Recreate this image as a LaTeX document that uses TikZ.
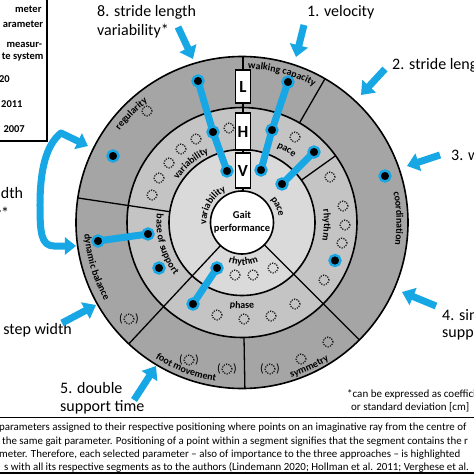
\documentclass[tikz,border=0pt]{standalone}
\usepackage{fontspec}
\setmainfont{Carlito}
\usetikzlibrary{arrows.meta,decorations.text}
\definecolor{cblue}{RGB}{22,167,228}
\definecolor{ringA}{RGB}{165,165,165}
\definecolor{ringB}{RGB}{196,196,196}
\definecolor{ringC}{RGB}{218,218,218}
\newcommand\lblfont{\bfseries\fontsize{10}{12}\selectfont}
\newcommand\lblcw[3]{\path[decorate,decoration={text along path,text align=center,text={|\lblfont|#3}}] ({#1+60}:#2) arc[start angle={#1+60}, end angle={#1-60}, radius=#2];}
\newcommand\lblccw[3]{\path[decorate,decoration={text along path,text align=center,text={|\lblfont|#3}}] ({#1-60}:#2) arc[start angle={#1-60}, end angle={#1+60}, radius=#2];}
\begin{document}
\begin{tikzpicture}[x=1pt,y=1pt,
  ringline/.style={draw=black,line width=1.6pt},
  divline/.style={draw=black,line width=1.3pt},
  rayline/.style={draw=cblue,line width=7pt},
  gdot/.style={circle,fill=black,draw=cblue,line width=2.4pt,minimum size=11pt,inner sep=0pt},
  edot/.style={circle,draw=black,line width=1.1pt,dash pattern=on 1.2pt off 1.3pt,minimum size=10pt,inner sep=0pt},
  paren/.style={inner sep=0pt,font=\fontsize{12}{12}\selectfont},
  lhv/.style={draw=black,fill=white,line width=1.2pt,minimum width=15pt,inner sep=0pt,font=\bfseries\fontsize{17}{17}\selectfont},
  bigarrow/.style={draw=cblue,line width=7pt,-{Triangle[length=12pt,width=18pt]}},
  dblarrow/.style={draw=cblue,line width=7pt,line join=round,{Triangle[length=11pt,width=17pt]}-{Triangle[length=11pt,width=17pt]}},
  itemlbl/.style={anchor=base west,inner sep=0pt,font=\fontsize{16}{19}\selectfont},
  legtxt/.style={anchor=base east,inner sep=0pt,font=\bfseries\fontsize{10.5}{12}\selectfont},
  captxt/.style={anchor=base west,inner sep=0pt,font=\fontsize{10.9}{12}\selectfont},
  fntxt/.style={anchor=base west,inner sep=0pt,font=\fontsize{11}{12}\selectfont},
]
\useasboundingbox (-242,-251.5) rectangle (232,222.5);
\fill[white] (-242,-251.5) rectangle (232,222.5);
\clip (-242,-251.5) rectangle (232,222.5);

% rings
\fill[ringA] (0,0) circle (166);
\fill[ringB] (0,0) circle (115);
\fill[ringC] (0,0) circle (73);
\fill[white] (0,0) circle (31.5);
% dividers
\draw[divline] (60:115) -- (60:166);
\draw[divline] (-45:31.5) -- (-45:166);
\draw[divline] (-89:115) -- (-89:166);
\draw[divline] (-133:31.5) -- (-133:166);
\draw[divline] (171.5:73) -- (171.5:166);
\draw[divline] (35.5:73) -- (35.5:115);
\draw[divline] (1,31.5) -- (1,166);
\draw[ringline] (0,0) circle (166);
\draw[ringline] (0,0) circle (115);
\draw[ringline] (0,0) circle (73);
\draw[ringline] (0,0) circle (31.5);

% L H V boxes
\node[lhv,minimum height=33pt] (boxL) at (1,136) {L};
\node[lhv,minimum height=37pt] (boxH) at (1,91) {H};
\node[lhv,minimum height=35pt] (boxV) at (1,52) {V};

\node[align=center,inner sep=0pt,font=\bfseries\fontsize{10.5}{13}\selectfont] (gait) at (0,0) {Gait\\performance};

% ring labels
\lblcw{135.5}{153}{regularity}
\lblcw{75}{154}{walking capacity}
\lblcw{1.5}{154.5}{coordination}
\lblccw{-65}{162.5}{symmetry}
\lblccw{-111}{161}{foot movement}
\lblccw{-163}{158}{dynamic balance}
\lblcw{131}{77}{variability}
\lblcw{58.5}{83}{pace}
\lblcw{-1.7}{82}{rhythm}
\lblccw{-90}{86}{phase}
\lblccw{-164}{85.5}{base of support}
\lblcw{150}{35.5}{variability}
\lblcw{24}{37}{pace}
\lblccw{-88}{42.5}{rhythm}

% empty (dotted) points
\node[edot] (e1) at (-95,111.5) {};
\node[edot] (e2) at (59,-136.5) {};
\node[edot] (e3) at (86,-119.5) {};
\node[edot] (e4) at (-13,94.5) {};
\node[edot] (e5) at (-46,83.5) {};
\node[edot] (e6) at (-61,73.5) {};
\node[edot] (e7) at (-73,59.5) {};
\node[edot] (e8) at (-83,44.5) {};
\node[edot] (e9) at (-90,27.5) {};
\node[edot] (e10) at (53,85.5) {};
\node[edot] (e11) at (88,45.5) {};
\node[edot] (e12) at (101,16.5) {};
\node[edot] (e13) at (103,-2.5) {};
\node[edot] (e14) at (100,-20.5) {};
\node[edot] (e15) at (82,-57.5) {};
\node[edot] (e16) at (-25,-92.5) {};
\node[edot] (e17) at (2,-96.5) {};
\node[edot] (e18) at (29,-93.5) {};
\node[edot] (e19) at (53,-81.5) {};
\node[edot] (e20) at (-7,-52.5) {};
\node[edot] (e21) at (11,-52.5) {};
\node[edot] (e22) at (31,-45.5) {};
% bracketed points
\node[edot] (p1) at (-113,-96.5) {};
\node[paren] (p1l) at (-121,-96.5) {(};
\node[paren] (p1r) at (-105,-96.5) {)};
\node[edot] (p2) at (-53,-137.5) {};
\node[paren] (p2l) at (-61,-137.5) {(};
\node[paren] (p2r) at (-45,-137.5) {)};
\node[edot] (p3) at (-15,-146.5) {};
\node[paren] (p3l) at (-23,-146.5) {(};
\node[paren] (p3r) at (-7,-146.5) {)};
\node[edot] (p4) at (28,-146.5) {};
\node[paren] (p4l) at (20,-146.5) {(};
\node[paren] (p4r) at (36,-146.5) {)};

% gait parameter points and rays
\coordinate (v1) at (46,140.5);
\coordinate (v2) at (30,92.5);
\coordinate (v3) at (19,52.5);
\coordinate (s1) at (-44,141.5);
\coordinate (s2) at (-29,90.5);
\coordinate (s3) at (-15,51.5);
\coordinate (l1) at (72,70.5);
\coordinate (l2) at (40,38.5);
\coordinate (d1) at (-25,-45.5);
\coordinate (d2) at (-49,-81.5);
\coordinate (w1) at (-144,-18.5);
\coordinate (w2) at (-94,-11.5);
\draw[rayline] (v1) -- (v2) -- (v3);
\draw[rayline] (s1) -- (s2) -- (s3);
\draw[rayline] (l1) -- (l2);
\draw[rayline] (d1) -- (d2);
\draw[rayline] (w1) -- (w2);
\foreach \c in {v1,v2,v3,s1,s2,s3,l1,l2,d1,d2,w1,w2}{\node[gdot] (n\c) at (\c) {};}
\node[gdot] (coordpt) at (143,46.5) {};
\node[gdot] (rhypt) at (93,-38) {};
\node[gdot] (bospt) at (-83,-45.5) {};
\node[gdot] (regpt) at (-129,66.5) {};

% image-coordinate items
\begin{scope}[shift={(-242,222.5)},yscale=-1]
  % legend box
  \draw[line width=1.5pt] (-5,-5) rectangle (47,141);
  \node[legtxt] (g1) at (41.7,13) {meter};
  \node[legtxt] (g2) at (43.3,28) {arameter};
  \node[legtxt] (g3) at (42.3,48) {measur-};
  \node[legtxt] (g4) at (43.7,60) {te system};
  \node[legtxt] (g5) at (10,83) {20};
  \node[legtxt] (g6) at (22.7,108) {2011};
  \node[legtxt] (g7) at (25,133) {2007};
  % item labels
  \node[itemlbl] (t8a) at (97,17) {8. stride length};
  \node[itemlbl] (t8b) at (97,36) {variability*};
  \node[itemlbl] (t1) at (307,17) {1. velocity};
  \node[itemlbl] (t2) at (392,70) {2. stride length};
  \node[itemlbl] (t3) at (451,160) {3. walk ratio};
  \node[itemlbl] (t4a) at (442,320) {4. single};
  \node[itemlbl] (t4b) at (442,337) {support time};
  \node[itemlbl] (t5a) at (60,393) {5. double};
  \node[itemlbl] (t5b) at (60,411) {support time};
  \node[itemlbl,anchor=base east] (t6) at (72,334) {6. step width};
  \node[itemlbl] (t7a) at (-62.6,198) {7. step width};
  \node[itemlbl] (t7b) at (-62.6,218) {variability*};
  % footnote
  \node[fntxt] (fn1) at (347,397) {*can be expressed as coefficient};
  \node[fntxt] (fn2) at (351,410) {or standard deviation [cm]};
  % caption
  \draw[line width=1.8pt] (-5,417.5) -- (480,417.5);
  \draw[line width=1.8pt] (-5,473) -- (480,473);
  \node[captxt] (c1) at (-1,430.5) {parameters assigned to their respective positioning where points on an imaginative ray from the centre of};
  \node[captxt] (c2) at (2,444.5) {the same gait parameter. Positioning of a point within a segment signifies that the segment contains the r};
  \node[captxt] (c3) at (-1,457.5) {meter. Therefore, each selected parameter – also of importance to the three approaches – is highlighted};
  \node[captxt] (c4) at (4,470.5) {s with all its respective segments as to the authors (Lindemann 2020; Hollman et al. 2011; Verghese et al.};
  % arrows
  \coordinate (a8s) at (178,27);  \coordinate (a8e) at (193,59);
  \coordinate (a1s) at (304,25);  \coordinate (a1e) at (296,57);
  \coordinate (a2s) at (385,69);  \coordinate (a2e) at (361,95);
  \coordinate (a3s) at (440,155); \coordinate (a3e) at (407,166);
  \coordinate (a4s) at (436,306); \coordinate (a4e) at (402,292);
  \coordinate (a5s) at (134,400); \coordinate (a5e) at (156,366);
  \coordinate (a6s) at (62,323);  \coordinate (a6e) at (96,305);
  \draw[bigarrow] (a8s) -- (a8e);
  \draw[bigarrow] (a1s) -- (a1e);
  \draw[bigarrow] (a2s) -- (a2e);
  \draw[bigarrow] (a3s) -- (a3e);
  \draw[bigarrow] (a4s) -- (a4e);
  \draw[bigarrow] (a5s) -- (a5e);
  \draw[bigarrow] (a6s) -- (a6e);
  \coordinate (a7t) at (88,146);
  \coordinate (a7b) at (76,246);
  \draw[dblarrow] (a7t) -- (61,133) .. controls (46,145) and (40,170) .. (40,205) .. controls (40,232) and (41,246) .. (54,246) -- (a7b);
\end{scope}
\end{tikzpicture}
\end{document}
